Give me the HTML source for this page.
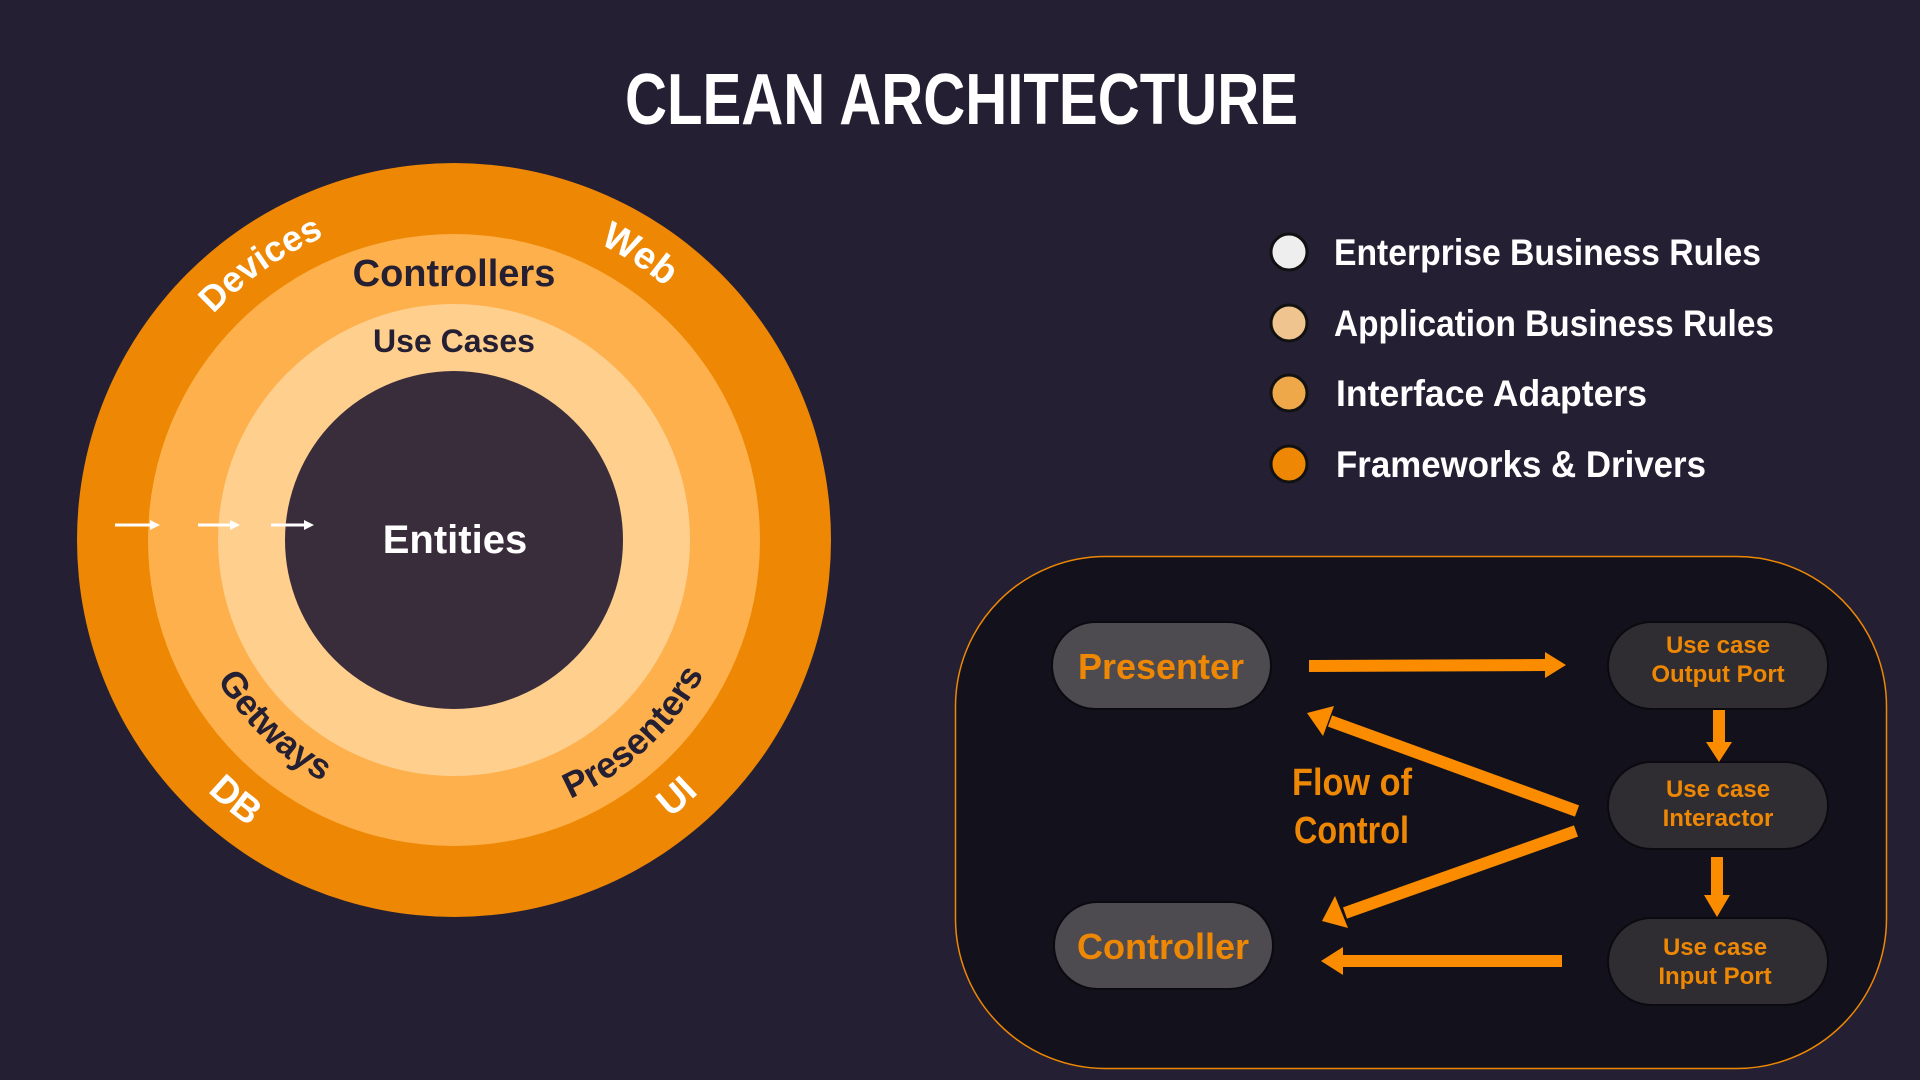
<!DOCTYPE html>
<html><head><meta charset="utf-8"><style>
html,body{margin:0;padding:0;background:#251f33;}
svg{display:block}
text{font-family:"Liberation Sans",sans-serif;font-weight:bold;}
</style></head><body>
<svg width="1920" height="1080" viewBox="0 0 1920 1080" xmlns="http://www.w3.org/2000/svg">
<rect width="1920" height="1080" fill="#251f33"/>
<text x="625" y="124" font-size="72" fill="#ffffff" textLength="673" lengthAdjust="spacingAndGlyphs">CLEAN ARCHITECTURE</text>

<circle cx="454" cy="540" r="377" fill="#ee8804"/>
<circle cx="454" cy="540" r="306" fill="#fdb04b"/>
<circle cx="454" cy="540" r="236" fill="#ffcf8e"/>
<circle cx="454" cy="540" r="169" fill="#392c3b"/>

<defs>
<path id="pDev" d="M135.2 454.6 A330 330 0 0 1 482.8 211.3"/>
<path id="pWeb" d="M413.8 212.5 A330 330 0 0 1 769.6 443.5"/>
<path id="pDB" d="M107.3 601.1 A352 352 0 0 0 454 892"/>
<path id="pUI" d="M460.1 891.9 A352 352 0 0 0 801.7 595.1"/>
<path id="pGet" d="M180.5 568.7 A275 275 0 0 0 434.8 814.3"/>
<path id="pPre" d="M468.4 821.6 A275 275 0 0 0 733.9 574.3"/>
</defs>
<text font-size="36" fill="#fff"><textPath href="#pDev" startOffset="50%" text-anchor="middle">Devices</textPath></text>
<text font-size="38" fill="#fff"><textPath href="#pWeb" startOffset="50%" text-anchor="middle">Web</textPath></text>
<text font-size="38" fill="#fff"><textPath href="#pDB" startOffset="50%" text-anchor="middle">DB</textPath></text>
<text font-size="38" fill="#fff"><textPath href="#pUI" startOffset="50%" text-anchor="middle">UI</textPath></text>
<text font-size="36" fill="#251f33"><textPath href="#pGet" startOffset="50%" text-anchor="middle">Getways</textPath></text>
<text font-size="36" fill="#251f33"><textPath href="#pPre" startOffset="50%" text-anchor="middle">Presenters</textPath></text>

<text x="454" y="286" text-anchor="middle" font-size="38" fill="#251f33">Controllers</text>
<text x="454" y="352" text-anchor="middle" font-size="32" fill="#251f33">Use Cases</text>
<text x="455" y="553" text-anchor="middle" font-size="40" fill="#ffffff">Entities</text>

<g stroke="#fff" stroke-width="3" fill="#fff">
<line x1="115" y1="525" x2="152" y2="525"/><polygon points="160,525 150,520 150,530" stroke="none"/>
<line x1="198" y1="525" x2="232" y2="525"/><polygon points="240,525 230,520 230,530" stroke="none"/>
<line x1="271" y1="525" x2="306" y2="525"/><polygon points="314,525 304,520 304,530" stroke="none"/>
</g>

<g stroke="#111" stroke-width="3">
<circle cx="1289" cy="252" r="18" fill="#eeeeee"/>
<circle cx="1289" cy="323" r="18" fill="#f0c48e"/>
<circle cx="1289" cy="393" r="18" fill="#eea84a"/>
<circle cx="1289" cy="464" r="18" fill="#ee8804"/>
</g>
<g font-size="37" fill="#ffffff" lengthAdjust="spacingAndGlyphs">
<text x="1334" y="265" textLength="427" lengthAdjust="spacingAndGlyphs">Enterprise Business Rules</text>
<text x="1334" y="336" textLength="440" lengthAdjust="spacingAndGlyphs">Application Business Rules</text>
<text x="1336" y="406" textLength="311" lengthAdjust="spacingAndGlyphs">Interface Adapters</text>
<text x="1336" y="477" textLength="370" lengthAdjust="spacingAndGlyphs">Frameworks &amp; Drivers</text>
</g>

<rect x="955.5" y="556.5" width="931" height="512" rx="150" ry="150" fill="#13111c" stroke="#ee8804" stroke-width="1.5"/>

<g stroke="#0b0a10" stroke-width="2">
<rect x="1052" y="622" width="219" height="87" rx="43.5" fill="#4d4b50"/>
<rect x="1054" y="902" width="219" height="87" rx="43.5" fill="#4d4b50"/>
<rect x="1608" y="622" width="220" height="87" rx="43.5" fill="#2f2d32"/>
<rect x="1608" y="762" width="220" height="87" rx="43.5" fill="#2f2d32"/>
<rect x="1608" y="918" width="220" height="87" rx="43.5" fill="#2f2d32"/>
</g>
<g fill="#ee8804" text-anchor="middle">
<text x="1161" y="679" font-size="36">Presenter</text>
<text x="1163" y="959" font-size="36">Controller</text>
<text x="1718" y="653" font-size="24">Use case</text>
<text x="1718" y="682" font-size="24">Output Port</text>
<text x="1718" y="797" font-size="24">Use case</text>
<text x="1718" y="826" font-size="24">Interactor</text>
<text x="1715" y="955" font-size="24">Use case</text>
<text x="1715" y="984" font-size="24">Input Port</text>
</g>
<g fill="#ee8804">
<text x="1292" y="795" font-size="38" textLength="120" lengthAdjust="spacingAndGlyphs">Flow of</text>
<text x="1294" y="843" font-size="38" textLength="115" lengthAdjust="spacingAndGlyphs">Control</text>
</g>

<g fill="#fb8c00">
<polygon points="1309,660 1545,659 1545,652 1566,665 1545,678 1545,671 1309,672"/>
<polygon points="1713,710 1725,710 1725,742 1732,742 1719,762 1706,742 1713,742"/>
<polygon points="1711,857 1723,857 1723,895 1730,895 1717,917 1704,895 1711,895"/>
<polygon points="1562,955 1562,967 1343,967 1343,975 1321,961 1343,947 1343,955"/>
</g>
<g stroke="#fb8c00" stroke-width="12" fill="none">
<line x1="1577" y1="811" x2="1330" y2="721"/>
<line x1="1576" y1="831" x2="1345" y2="913"/>
</g>
<polygon fill="#fb8c00" points="1307,713 1334,706 1323,736"/>
<polygon fill="#fb8c00" points="1322,921 1335,896 1348,928"/>
</svg>
</body></html>
